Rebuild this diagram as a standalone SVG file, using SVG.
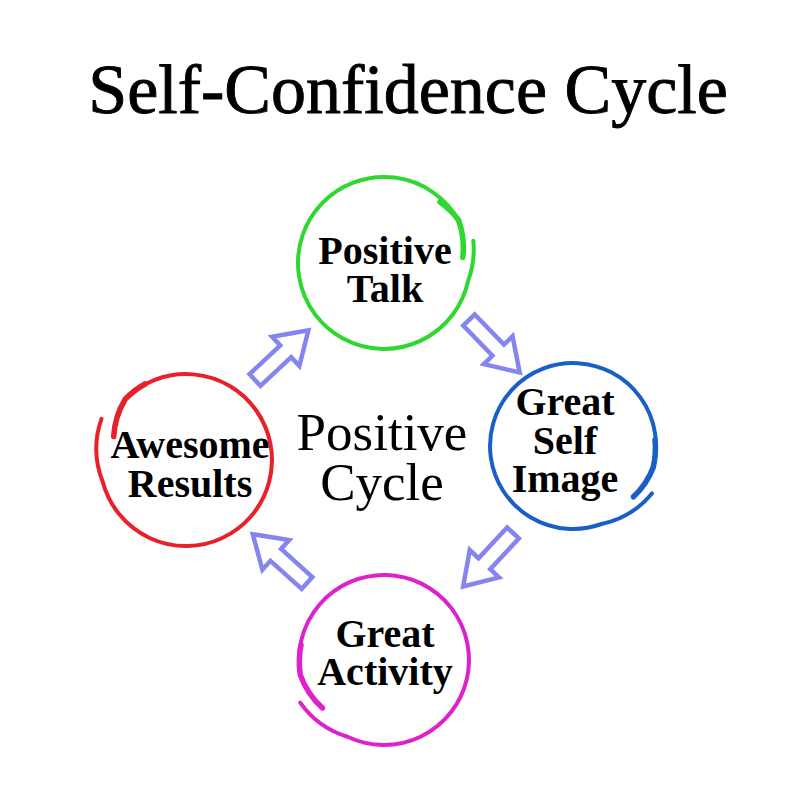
<svg xmlns="http://www.w3.org/2000/svg" width="800" height="809" viewBox="0 0 800 809">
<style>
.title{font-family:"Liberation Serif","Times New Roman",serif;font-size:70px;fill:#000;stroke:#000;stroke-width:0.9;text-anchor:middle}
.lbl{font-family:"Liberation Serif","Times New Roman",serif;font-size:40px;font-weight:bold;fill:#000;text-anchor:middle}
.ctr{font-family:"Liberation Serif","Times New Roman",serif;font-size:53px;fill:#000;text-anchor:middle}
.ring{fill:none;stroke-width:4;stroke-linecap:round}
.tip{fill:none;stroke-width:5.5;stroke-linecap:round}
.arrow{fill:#fff;stroke:#8585f0;stroke-width:4.5;stroke-linejoin:miter}
</style>
<defs>
<path id="arr" d="M0,-8 L42,-8 L42,-20 L73,0 L42,20 L42,8 L0,8 Z"/>
</defs>
<rect width="800" height="809" fill="#fff"/>
<text class="title" x="408" y="113">Self-Confidence Cycle</text>

<g id="connectors">
<use href="#arr" class="arrow" transform="translate(255,380) rotate(-43)"/>
<use href="#arr" class="arrow" transform="translate(469,320) rotate(46)"/>
<use href="#arr" class="arrow" transform="translate(513,533) rotate(133)"/>
<use href="#arr" class="arrow" transform="translate(307,583) rotate(-138)"/>
</g>

<g id="positive-talk">
<path class="ring" stroke="#2fd82f" d="M473.3,240.7 A89,89 0 0 1 468.1,280.9 A86,86 0 1 1 458.5,220 A82,82 0 0 1 462.8,257.5"/>
<path class="tip" stroke="#2fd82f" d="M440,202 A84,84 0 0 1 458.5,220 A82,82 0 0 1 462.8,257.5"/>
<text class="lbl" x="385" y="264">Positive</text>
<text class="lbl" x="385" y="302">Talk</text>
</g>

<g id="great-self-image">
<path class="ring" stroke="#1a5fc8" d="M651.9,493.4 A88,88 0 0 1 601.4,524 A83,83 0 1 1 653.2,467.5 A80,80 0 0 1 633.5,496.8"/>
<path class="tip" stroke="#1a5fc8" d="M655,440 A83,83 0 0 1 653.2,467.5 A80,80 0 0 1 633.5,496.8"/>
<text class="lbl" x="565" y="415">Great</text>
<text class="lbl" x="565" y="454">Self</text>
<text class="lbl" x="565" y="492">Image</text>
</g>

<g id="awesome-results">
<path class="ring" stroke="#e8202a" d="M101.5,418.8 A90,90 0 0 0 102.9,482.3 A86,86 0 1 0 125.2,399.2 A80,80 0 0 0 113.7,436.5"/>
<path class="tip" stroke="#e8202a" d="M145,384 A86,86 0 0 0 125.2,399.2 A80,80 0 0 0 113.7,436.5"/>
<text class="lbl" x="190" y="458">Awesome</text>
<text class="lbl" x="190" y="497">Results</text>
</g>

<g id="great-activity">
<path class="ring" stroke="#dd22cc" d="M300.2,702.7 A90,90 0 0 0 348.1,737 A85,85 0 1 0 300.3,674.8 A81,81 0 0 0 322.5,708"/>
<path class="tip" stroke="#dd22cc" d="M301,645 A85,85 0 0 0 300.3,674.8 A81,81 0 0 0 322.5,708"/>
<text class="lbl" x="385" y="647">Great</text>
<text class="lbl" x="385" y="685">Activity</text>
</g>

<g id="center">
<text class="ctr" x="382" y="450">Positive</text>
<text class="ctr" x="382" y="500">Cycle</text>
</g>
</svg>
